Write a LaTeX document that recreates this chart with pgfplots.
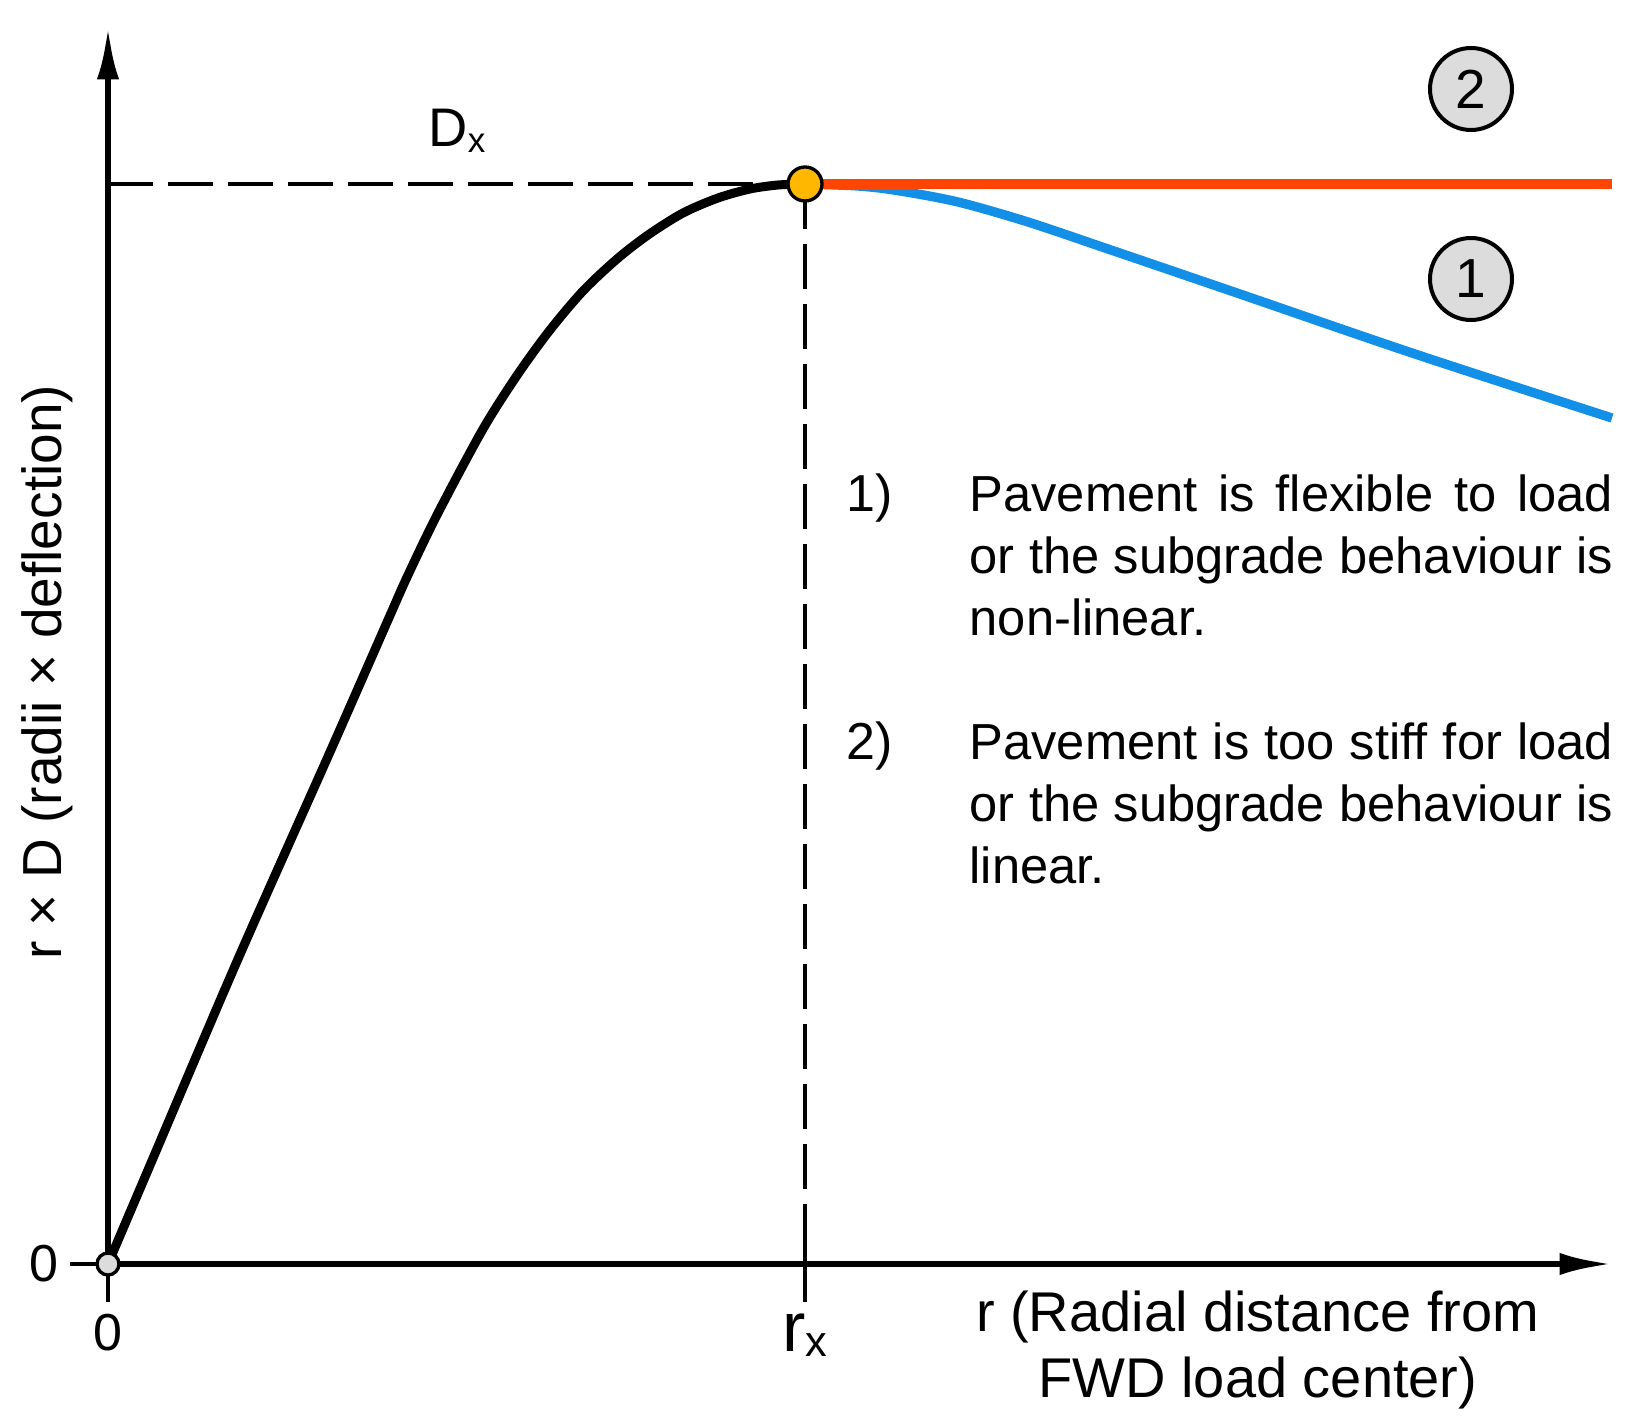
\documentclass[border=0pt]{standalone}
\usepackage{pgfplots}
\pgfplotsset{compat=1.18}
\usepackage{fontspec}
\setmainfont{Liberation Sans}
\usetikzlibrary{arrows.meta}
\definecolor{myred}{RGB}{255,69,0}
\definecolor{myblue}{RGB}{18,143,230}
\definecolor{myorange}{RGB}{255,183,0}
\definecolor{mygray}{RGB}{220,220,220}
\begin{document}
\begin{tikzpicture}[font=\fontsize{15.6}{18.6}\selectfont]
\begin{axis}[
  x=0.3pt, y=0.3pt,
  xmin=0, xmax=1505, ymin=0, ymax=1238,
  axis lines=left,
  axis line style={line width=2pt},
  x axis line style={-{Latex[length=16pt, width=6.6pt]}},
  y axis line style={-{Latex[length=16pt, width=6.6pt]}},
  clip=false,
  xtick={0,697},
  xticklabels={0, {\fontsize{21}{21}\selectfont r\raisebox{-1.5pt}{\fontsize{13}{13}\selectfont x}}},
  ytick={0}, yticklabels={0},
  tick align=center, major tick length=22.8pt,
  tick style={line width=1.2pt, black},
  /pgf/number format/assume math mode=true,
  xlabel={r (Radial distance from\\FWD load center)},
  xlabel style={align=center, inner sep=0pt, anchor=north,
    font=\fontsize{16.8}{20}\selectfont,
    at={(axis description cs:0.764,-0.021)}},
  ylabel={r × D (radii × deflection)},
  ylabel style={anchor=center, inner sep=0pt,
    font=\fontsize{16.5}{18}\selectfont,
    at={(axis description cs:-0.0405,0.478)}},
]
% blue: case 1
\addplot[myblue, line width=2.8pt, smooth] coordinates {
 (697,1080) (750,1078) (789,1073.5) (850,1062) (920,1042) (1000,1015)
 (1129,971) (1307,910) (1504,846)};
% red: case 2
\addplot[myred, line width=2.8pt] coordinates {(697,1080) (1504,1080)};
% dashed guides
\addplot[black, line width=1.1pt, dash pattern=on 13.5pt off 4.5pt] coordinates {(0,1080) (697,1080)};
\addplot[black, line width=1.1pt, dash pattern=on 13.5pt off 4.5pt] coordinates {(697,1080) (697,0)};
% black curve
\addplot[black, line width=2.7pt, smooth] coordinates {
 (0,0) (40,94) (130,305) (222,512) (280,644) (300,689) (330,751) (375,835)
 (410,890) (442,934) (475,973) (509,1005) (540,1029) (575,1051) (610,1066)
 (642,1075) (670,1079) (697,1080)};
% markers
\addplot[only marks, mark=*, mark size=3.3pt, mark options={fill=mygray, draw=black, line width=1pt}] coordinates {(0,0)};
\addplot[only marks, mark=*, mark size=5.1pt, mark options={fill=myorange, draw=black, line width=1pt}] coordinates {(697,1080)};
% labels
\node[anchor=base west, inner sep=0pt] at (axis cs:320,1117) {\fontsize{16.3}{18}\selectfont D\raisebox{-1.8pt}{\fontsize{10.5}{10.5}\selectfont x}};
\node[circle, draw=black, fill=mygray, line width=1.2pt, minimum size=24.6pt, inner sep=0pt] at (axis cs:1363,1175) {\fontsize{16.5}{18}\selectfont 2};
\node[circle, draw=black, fill=mygray, line width=1.2pt, minimum size=24.6pt, inner sep=0pt] at (axis cs:1363,985) {\fontsize{16.5}{18}\selectfont 1};
\node[anchor=base west, inner sep=0pt] at (axis cs:738,752) {1)};
\node[anchor=base west, inner sep=0pt] at (axis cs:738,505) {2)};
\node[anchor=base west, inner sep=0pt] at (axis cs:861,752) {\parbox[t]{193pt}{\fontsize{15.2}{18.6}\selectfont
 \makebox[193pt][s]{Pavement is flexible to load}\\
 \makebox[193pt][s]{or the subgrade behaviour is}\\
 non-linear.\\[18.6pt]
 \makebox[193pt][s]{Pavement is too stiff for load}\\
 \makebox[193pt][s]{or the subgrade behaviour is}\\
 linear.}};
\coordinate (ll) at (axis cs:-108,-156);
\coordinate (ur) at (axis cs:1525,1264);
\end{axis}
\pgfresetboundingbox
\path[use as bounding box] (ll) rectangle (ur);
\end{tikzpicture}
\end{document}
